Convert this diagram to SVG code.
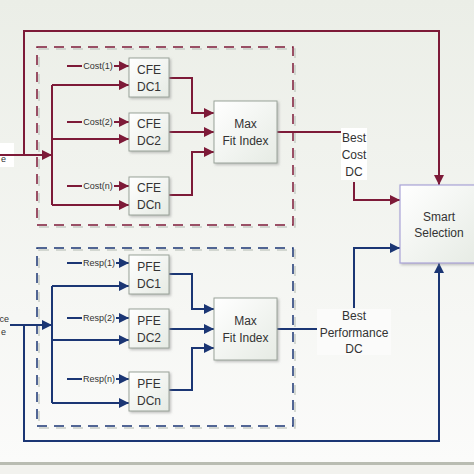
<svg xmlns="http://www.w3.org/2000/svg" width="474" height="474" viewBox="0 0 474 474">
<defs>
<linearGradient id="bg" x1="0" y1="0" x2="0" y2="1">
<stop offset="0" stop-color="#ebeee7"/>
<stop offset="1" stop-color="#fbfbfa"/>
</linearGradient>
<linearGradient id="nodeFill" x1="0" y1="0" x2="1" y2="1">
<stop offset="0" stop-color="#ffffff"/>
<stop offset="1" stop-color="#e6ebe4"/>
</linearGradient>
<filter id="shadow" x="-20%" y="-20%" width="140%" height="140%">
<feDropShadow dx="1.5" dy="1.5" stdDeviation="1" flood-color="#888" flood-opacity="0.5"/>
</filter>
<marker id="arR" markerUnits="userSpaceOnUse" markerWidth="10" markerHeight="10" refX="10" refY="5" orient="auto">
<path d="M0,0 L10,5 L0,10 z" fill="#7d1a38"/>
</marker>
<marker id="arB" markerUnits="userSpaceOnUse" markerWidth="10" markerHeight="10" refX="10" refY="5" orient="auto">
<path d="M0,0 L10,5 L0,10 z" fill="#1b3674"/>
</marker>
</defs>
<style>
.red{fill:none;stroke:#7d1a38;stroke-width:2}
.blue{fill:none;stroke:#1b3674;stroke-width:2}
.ra{marker-end:url(#arR)}
.ba{marker-end:url(#arB)}
.node{fill:url(#nodeFill);stroke:#9aa39a;stroke-width:1;filter:url(#shadow)}
.t{font-family:"Liberation Sans",Arial,sans-serif;font-size:12px;fill:#333;text-anchor:middle}
.s{font-family:"Liberation Sans",Arial,sans-serif;font-size:9px;fill:#333;text-anchor:middle}
.dr{fill:none;stroke:#7d1a38;stroke-width:1.5;stroke-dasharray:10 7}
.db{fill:none;stroke:#1b3674;stroke-width:1.5;stroke-dasharray:10 7}
.dsh{fill:none;stroke:#c8cdc6;stroke-width:1.5;stroke-dasharray:10 7}
</style>
<rect x="0" y="0" width="474" height="462" fill="url(#bg)"/>
<rect x="0" y="462" width="474" height="3" fill="#b9bcb2"/>
<rect x="0" y="465" width="474" height="9" fill="#f2f2ee"/>

<g id="groups">
<rect class="dsh" x="39" y="49" width="256" height="178"/>
<rect class="dr" x="37" y="47" width="256" height="178"/>
<rect class="dsh" x="39" y="250" width="256" height="178"/>
<rect class="db" x="37" y="248" width="256" height="178"/>
</g>

<g id="connectors">
<rect x="0" y="143" width="14" height="24" fill="#ffffff"/>
<path class="red ra" d="M0 155 H52"/>
<path class="red ra" d="M24 155 V31 H439 V185"/>
<path class="red" d="M52 85 V205"/>
<path class="red ra" d="M52 85 H129"/>
<path class="red ra" d="M52 139 H129"/>
<path class="red ra" d="M52 205 H129"/>
<path class="red" d="M67 66 H82"/><path class="red ra" d="M114 66 H129"/>
<path class="red" d="M67 122 H82"/><path class="red ra" d="M114 122 H129"/>
<path class="red" d="M67 186 H82"/><path class="red ra" d="M114 186 H129"/>
<path class="red ra" d="M169 78 H192 V113 H214"/>
<path class="red ra" d="M169 132 H214"/>
<path class="red ra" d="M169 195 H192 V152 H214"/>
<path class="red" d="M277 132 H342"/>
<path class="red ra" d="M354 182 V200 H400"/>

<path class="blue ba" d="M10 325 H52"/>
<path class="blue ba" d="M24 325 V441 H439 V263"/>
<path class="blue" d="M52 286 V403"/>
<path class="blue ba" d="M52 286 H129"/>
<path class="blue ba" d="M52 340 H129"/>
<path class="blue ba" d="M52 403 H129"/>
<path class="blue" d="M67 263 H82"/><path class="blue ba" d="M116 263 H129"/>
<path class="blue" d="M67 318 H82"/><path class="blue ba" d="M116 318 H129"/>
<path class="blue" d="M67 379 H82"/><path class="blue ba" d="M116 379 H129"/>
<path class="blue ba" d="M169 274 H192 V309 H214"/>
<path class="blue ba" d="M169 329 H214"/>
<path class="blue ba" d="M169 390 H192 V348 H214"/>
<path class="blue" d="M277 329 H317"/>
<path class="blue ba" d="M354 308 V248 H400"/>

<text class="s" x="98" y="69">Cost(1)</text>
<text class="s" x="98" y="125">Cost(2)</text>
<text class="s" x="98" y="189">Cost(n)</text>
<text class="s" x="99" y="266">Resp(1)</text>
<text class="s" x="99" y="321">Resp(2)</text>
<text class="s" x="99" y="382">Resp(n)</text>
<text class="s" x="6" y="162" style="text-anchor:end">e</text>
<text class="s" x="9" y="322" style="text-anchor:end">ce</text>
<text class="s" x="6" y="335" style="text-anchor:end">e</text>
</g>

<g id="cfe1"><rect class="node" x="129" y="58" width="40" height="39"/><text class="t" x="149" y="74">CFE</text><text class="t" x="149" y="91">DC1</text></g>
<g id="cfe2"><rect class="node" x="129" y="113" width="40" height="38"/><text class="t" x="149" y="128">CFE</text><text class="t" x="149" y="145">DC2</text></g>
<g id="cfen"><rect class="node" x="129" y="177" width="40" height="38"/><text class="t" x="149" y="192">CFE</text><text class="t" x="149" y="209">DCn</text></g>
<g id="maxCost"><rect class="node" x="214" y="101" width="63" height="62"/><text class="t" x="245.5" y="128">Max</text><text class="t" x="245.5" y="145">Fit Index</text></g>

<g id="pfe1"><rect class="node" x="129" y="255" width="40" height="39"/><text class="t" x="149" y="271">PFE</text><text class="t" x="149" y="288">DC1</text></g>
<g id="pfe2"><rect class="node" x="129" y="309" width="40" height="39"/><text class="t" x="149" y="325">PFE</text><text class="t" x="149" y="342">DC2</text></g>
<g id="pfen"><rect class="node" x="129" y="372" width="40" height="39"/><text class="t" x="149" y="388">PFE</text><text class="t" x="149" y="405">DCn</text></g>
<g id="maxPerf"><rect class="node" x="214" y="298" width="63" height="62"/><text class="t" x="245.5" y="325">Max</text><text class="t" x="245.5" y="342">Fit Index</text></g>

<g id="bestCost"><rect x="341" y="128" width="26" height="52" fill="#ffffff"/><text class="t" x="354" y="142">Best</text><text class="t" x="354" y="159">Cost</text><text class="t" x="354" y="176">DC</text></g>
<g id="bestPerf"><rect x="317" y="309" width="74" height="46" fill="#fbfbfa"/><text class="t" x="354" y="320">Best</text><text class="t" x="354" y="337">Performance</text><text class="t" x="354" y="353">DC</text></g>

<g id="smart"><rect x="400" y="185" width="80" height="78" fill="url(#nodeFill)" stroke="#aaa4d8" stroke-width="1.2" filter="url(#shadow)"/><text class="t" x="439" y="221">Smart</text><text class="t" x="439" y="237">Selection</text></g>
</svg>
